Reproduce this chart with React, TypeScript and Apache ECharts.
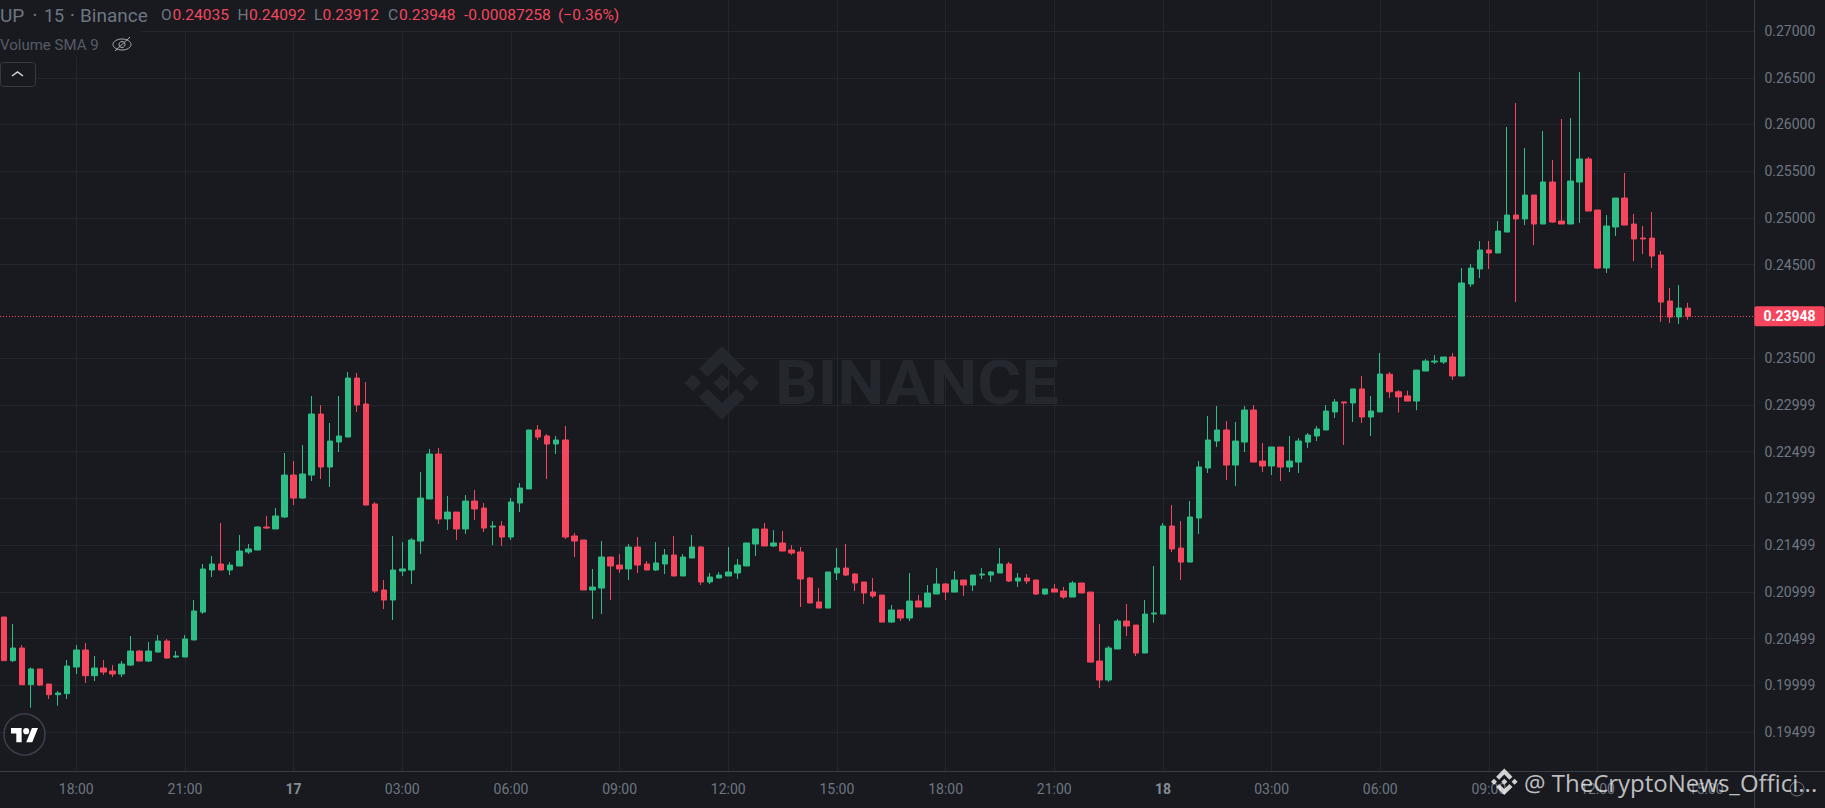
import React, { useEffect, useRef } from "react";
import * as echarts from "echarts";

// [open, close, low, high] per 15-minute candle
const candlesDay16 = [
  [0.2073,0.20263,0.20263,0.2073],[0.20263,0.20398,0.20248,0.20655],[0.20398,0.20006,0.20006,0.2043],[0.20006,0.20174,0.1976,0.20191],
  [0.20174,0.20002,0.19992,0.20174],[0.20013,0.19899,0.19853,0.20013],[0.19899,0.19917,0.19781,0.19938],[0.1991,0.20206,0.19853,0.2027],
  [0.20195,0.20377,0.2012,0.2043],[0.20377,0.20102,0.20024,0.20452],[0.20102,0.20184,0.20045,0.20313],[0.20184,0.20141,0.20109,0.2027],
  [0.20152,0.2012,0.20088,0.20216],[0.2012,0.20227,0.20088,0.20259],[0.20216,0.20366,0.20206,0.20527],[0.20366,0.20259,0.20259,0.20377],
  [0.20259,0.20366,0.20248,0.20462],[0.20355,0.20473,0.20355,0.20537],[0.20473,0.20291,0.20281,0.20495],[0.20302,0.20313,0.20291,0.20366],
  [0.20302,0.20495,0.20302,0.20537],[0.20484,0.20794,0.20484,0.20912],[0.20783,0.21244,0.20762,0.21297],[0.21233,0.21297,0.21158,0.21383],
  [0.21297,0.21233,0.21233,0.21736],[0.21233,0.21286,0.21179,0.21318],[0.21276,0.21436,0.21276,0.21607],[0.21425,0.21458,0.21404,0.21511],
  [0.21447,0.21693,0.21447,0.21704],[0.21693,0.21682,0.21672,0.21811],[0.21672,0.21811,0.21672,0.21896],[0.218,0.22249,0.21789,0.22485],
];
const candlesDay17 = [
  [0.22249,0.22003,0.21928,0.22399],[0.22003,0.2226,0.21993,0.2257],[0.22249,0.22902,0.22185,0.23095],[0.22902,0.22335,0.22207,0.22998],
  [0.22335,0.22613,0.22121,0.22806],[0.22603,0.22667,0.22496,0.23095],[0.22656,0.23287,0.22656,0.23352],[0.23287,0.22998,0.22924,0.23341],
  [0.23009,0.21928,0.21928,0.23245],[0.21939,0.21008,0.20987,0.2196],[0.21019,0.20912,0.20815,0.21126],[0.20912,0.21233,0.20698,0.21597],
  [0.21222,0.21244,0.21169,0.21532],[0.21233,0.21554,0.21083,0.21575],[0.21543,0.22003,0.21404,0.22281],[0.21993,0.22474,0.21993,0.22528],
  [0.22474,0.21779,0.21725,0.22538],[0.21779,0.21853,0.21661,0.22025],[0.21853,0.21672,0.21554,0.21853],[0.21672,0.21971,0.21618,0.22035],
  [0.21971,0.21886,0.21768,0.22089],[0.21896,0.21682,0.21639,0.2195],[0.21693,0.21704,0.215,0.21757],[0.21704,0.21586,0.2149,0.21757],
  [0.21586,0.21961,0.21554,0.22003],[0.2195,0.2211,0.21854,0.22164],[0.221,0.22731,0.221,0.22731],[0.22731,0.22656,0.22624,0.22784],
  [0.22667,0.22581,0.22207,0.22688],[0.22581,0.22624,0.22474,0.22667],[0.22624,0.21586,0.21565,0.22774],[0.21597,0.21543,0.21372,0.21629],
  [0.21554,0.21019,0.21019,0.21554],[0.21019,0.21051,0.20709,0.21244],[0.2104,0.21372,0.20762,0.21543],[0.21372,0.21276,0.20912,0.21372],
  [0.21286,0.21244,0.21201,0.21404],[0.21244,0.21479,0.21126,0.21511],[0.21479,0.21286,0.21201,0.21586],[0.21297,0.21233,0.21233,0.21329],
  [0.21233,0.21308,0.21222,0.21532],[0.21297,0.21393,0.2119,0.21458],[0.21393,0.21169,0.21169,0.21597],[0.21169,0.21372,0.21169,0.21404],
  [0.21361,0.21479,0.21361,0.21607],[0.21479,0.21105,0.21072,0.2149],[0.21105,0.21158,0.21083,0.21201],[0.21147,0.21179,0.21147,0.21212],
  [0.21169,0.21212,0.21169,0.21479],[0.21201,0.21286,0.21137,0.21351],[0.21276,0.21522,0.21276,0.21522],[0.21511,0.21672,0.21383,0.21672],
  [0.21672,0.2149,0.2149,0.21736],[0.2149,0.21522,0.21479,0.21661],[0.21522,0.21436,0.21436,0.2165],[0.21447,0.21415,0.21393,0.215],
  [0.21426,0.21137,0.20837,0.21479],[0.21147,0.2088,0.2088,0.21158],[0.20891,0.20826,0.20826,0.2104],[0.20826,0.21212,0.20826,0.21212],
  [0.21201,0.21254,0.21126,0.21468],[0.21254,0.21179,0.21169,0.21511],[0.2119,0.21094,0.21008,0.21201],[0.21105,0.20987,0.20869,0.21105],
  [0.20998,0.20955,0.20933,0.21147],[0.20965,0.20676,0.20676,0.20965],[0.20676,0.20805,0.20666,0.20858],[0.20805,0.20719,0.20687,0.20805],
  [0.20719,0.20901,0.20687,0.21201],[0.20901,0.20837,0.20837,0.20965],[0.20837,0.20987,0.20837,0.21072],[0.20976,0.21083,0.20976,0.21254],
  [0.21083,0.20997,0.20912,0.21094],[0.20997,0.21126,0.20997,0.21222],[0.21126,0.21072,0.20955,0.21126],[0.21072,0.21179,0.21008,0.21179],
  [0.21179,0.2119,0.21137,0.21254],[0.21179,0.21212,0.21105,0.21222],[0.21201,0.21297,0.21201,0.21468],[0.21297,0.21115,0.21105,0.21319],
  [0.21115,0.21147,0.21051,0.21201],[0.21147,0.21115,0.21083,0.2119],[0.21126,0.20976,0.20965,0.21126],[0.20976,0.2103,0.20965,0.2103],
  [0.2103,0.20997,0.20997,0.21083],[0.21008,0.20944,0.20923,0.21051],[0.20944,0.21094,0.20944,0.21115],[0.21094,0.20987,0.20987,0.21094],
  [0.20997,0.20248,0.20248,0.20997],[0.20259,0.20056,0.1997,0.20655],[0.20056,0.20398,0.20034,0.2042],[0.20388,0.20687,0.20388,0.20709],
  [0.20687,0.20634,0.20527,0.20869],[0.20644,0.20345,0.20313,0.20644],[0.20345,0.20762,0.20345,0.20912],[0.20762,0.20773,0.20669,0.21276],
];
const candlesDay18 = [
  [0.20762,0.21704,0.20762,0.21736],[0.21704,0.21458,0.21425,0.21928],[0.21468,0.21318,0.21126,0.21757],[0.21318,0.218,0.21318,0.21971],
  [0.21789,0.22335,0.21618,0.22399],[0.22324,0.22624,0.22271,0.22881],[0.22613,0.22731,0.22549,0.22988],[0.22731,0.22356,0.22196,0.22827],
  [0.22356,0.22613,0.22132,0.22817],[0.22602,0.22945,0.22495,0.22988],[0.22945,0.22388,0.22388,0.22998],[0.22399,0.22346,0.22281,0.22592],
  [0.22346,0.22549,0.22249,0.22549],[0.22549,0.22335,0.22185,0.22549],[0.22335,0.22399,0.22281,0.22667],[0.22388,0.22613,0.22271,0.22645],
  [0.22602,0.22677,0.22538,0.22699],[0.22667,0.22742,0.22613,0.22774],[0.22731,0.22934,0.22731,0.22998],[0.22924,0.23031,0.22859,0.23063],
  [0.23031,0.2302,0.2257,0.23031],[0.2302,0.2317,0.22817,0.2317],[0.2317,0.2287,0.22806,0.23309],[0.2287,0.22934,0.22667,0.23095],
  [0.22924,0.2333,0.22924,0.23555],[0.23328,0.2314,0.23074,0.23352],[0.2314,0.23085,0.22919,0.23157],[0.23096,0.23041,0.23041,0.23152],
  [0.23041,0.23372,0.22942,0.23372],[0.23362,0.23469,0.23362,0.2349],[0.23458,0.23469,0.23437,0.23533],[0.23458,0.23512,0.23437,0.23512],
  [0.23512,0.23309,0.23266,0.23555],[0.23309,0.24304,0.23309,0.24464],[0.24293,0.24464,0.24261,0.24507],[0.24454,0.24657,0.24357,0.24753],
  [0.24657,0.24625,0.24454,0.24753],[0.24625,0.2486,0.24625,0.24967],[0.24849,0.25031,0.24849,0.25973],[0.25031,0.24989,0.241,0.2623],
  [0.24989,0.25245,0.24924,0.25748],[0.25245,0.24935,0.2471,0.25245],[0.24935,0.25385,0.24935,0.2593],[0.25384,0.24956,0.24946,0.2562],
  [0.24967,0.24935,0.24935,0.26059],[0.24935,0.25395,0.24935,0.26069],[0.25384,0.25631,0.24946,0.26562],[0.25631,0.25074,0.25074,0.25652],
  [0.25085,0.24464,0.24454,0.25085],[0.24464,0.24914,0.24411,0.25031],[0.24903,0.25213,0.24807,0.25213],[0.25213,0.24924,0.24924,0.25481],
  [0.24935,0.24775,0.24539,0.25042],[0.24785,0.24775,0.24614,0.24914],[0.24785,0.24593,0.24464,0.25063],[0.24603,0.241,0.23886,0.24646],
  [0.24111,0.2394,0.23876,0.2425],[0.2394,0.24036,0.23865,0.24282],[0.24035,0.23948,0.23912,0.24092],
];

const priceTicks = [0.27,0.265,0.26,0.255,0.25,0.245,0.235,0.22999,0.22499,0.21999,0.21499,0.20999,0.20499,0.19999,0.19499];
const timeTickIndex = [8,20,32,44,56,68,80,92,104,116,128,140,152,164,176,188];
const timeTickLabels = ["18:00","21:00","17","03:00","06:00","09:00","12:00","15:00","18:00","21:00","18","03:00","06:00","09:00","12:00","15:00"];
const lastPrice = 0.23948;
const ohlcLegend = ["0.24035","0.24092","0.23912","0.23948"];

const BG = "#181A20";
const UP = "#2EBD85";
const DOWN = "#F6465D";
const GRID = "#23262D";
const AXIS = "#3A3E46";
const MUTED = "#6E7681";
const FONT = "Roboto, sans-serif";

const BINANCE_D = "M38.73 53.2l24.59-24.58 24.6 24.6 14.3-14.31L63.32 0 24.43 38.9 38.73 53.2zM0 63.31l14.3-14.31 14.31 14.31-14.31 14.3L0 63.31zM38.73 73.41l24.59 24.59 24.6-24.6 14.31 14.29L63.32 126.61 24.43 87.7l-.02-.02 14.32-14.27zM98 63.31l14.3-14.3 14.31 14.3-14.31 14.3L98 63.31zM77.83 63.3h.01L63.32 48.78 52.59 59.51l-1.24 1.23-2.54 2.54-.02.02.02.03 14.51 14.5 14.52-14.52.01-.01h-.02z";
const TV_D = "M14 22H7V11H0V4h14v18zM28 22h-8l7.5-18h8L28 22zM20 4a4 4 0 1 0 0 8 4 4 0 1 0 0-8z";
echarts.graphic.registerShape("binanceLogo", echarts.graphic.extendPath(BINANCE_D, {}));
echarts.graphic.registerShape("tvLogo", echarts.graphic.extendPath(TV_D, {}));

const label = (text: string, x: number, y: number, fill: string, size = 15.5, extra: any = {}) => ({
  type: "text", x, y, z: 20, silent: true,
  style: { text, fill, font: `${extra.weight || 400} ${size}px ${extra.family || FONT}`, verticalAlign: "middle", align: extra.align || "left", opacity: extra.opacity ?? 1 },
  ...(extra.scaleX ? { scaleX: extra.scaleX } : {}),
});

export default function App() {
  const ref = useRef<HTMLDivElement>(null);
  useEffect(() => {
    const chart = echarts.init(ref.current!, null, { renderer: "svg" });
    const candles = [...candlesDay16, ...candlesDay17, ...candlesDay18];
    chart.setOption({
      animation: false,
      backgroundColor: BG,
      grid: { left: 0, top: 0, width: 1754.4, height: 771.6 },
      xAxis: {
        type: "value", min: -0.426, max: 193.32, scale: true,
        axisLine: { show: true, onZero: false, lineStyle: { color: AXIS } },
        axisTick: { show: false, customValues: timeTickIndex },
        splitLine: { show: true, lineStyle: { color: GRID, width: 1 } },
        axisLabel: {
          customValues: timeTickIndex, color: MUTED, fontFamily: FONT, fontSize: 14, margin: 10,
          formatter: (v: number) => {
            const t = timeTickLabels[timeTickIndex.indexOf(Math.round(v))] ?? "";
            return t.length === 2 ? `{d|${t}}` : t;
          },
          rich: { d: { color: "#858C97", fontFamily: FONT, fontSize: 14, fontWeight: 700 } },
        },
      },
      yAxis: {
        type: "value", position: "right", min: 0.19076, max: 0.27332, scale: true,
        axisLine: { show: true, onZero: false, lineStyle: { color: AXIS } },
        axisTick: { show: false, customValues: priceTicks },
        splitLine: { show: true, lineStyle: { color: GRID, width: 1 } },
        axisLabel: {
          customValues: priceTicks, color: MUTED, fontFamily: FONT, fontSize: 14, margin: 10,
          formatter: (v: number) => v.toFixed(5),
        },
      },
      series: [{
        type: "candlestick",
        barWidth: 6,
        z: 5,
        data: candles.map((c, i) => [i, ...c]),
        itemStyle: { color: UP, color0: DOWN, borderColor: UP, borderColor0: DOWN, borderColorDoji: UP, borderWidth: 1 },
        markLine: {
          silent: true, symbol: "none", animation: false, precision: 5,
          lineStyle: { color: DOWN, type: [1, 2], width: 1 },
          data: [{ yAxis: lastPrice }],
          label: {
            position: "end", distance: 0, formatter: lastPrice.toFixed(5),
            color: "#FFFFFF", backgroundColor: DOWN, fontFamily: FONT, fontSize: 14, fontWeight: 700,
            padding: [3, 9, 3, 9], borderRadius: 2,
          },
        },
      }],
      graphic: [
        { type: "rect", z: 1, silent: true, shape: { x: 0, y: 0, width: 622, height: 30 }, style: { fill: BG } },
        { type: "rect", z: 1, silent: true, shape: { x: 0, y: 31, width: 140, height: 26 }, style: { fill: BG } },
        // BINANCE watermark
        { type: "binanceLogo", z: 1, silent: true, x: 684.5, y: 346, scaleX: 0.592, scaleY: 0.582, style: { fill: "#25272E" } },
        label("BINANCE", 775, 382.5, "#25272E", 62, { weight: 700, scaleX: 1.08 }),
        // axis line extensions
        { type: "line", z: 3, silent: true, shape: { x1: 1754.5, y1: 771.6, x2: 1754.5, y2: 808 }, style: { stroke: AXIS, lineWidth: 1 } },
        { type: "line", z: 3, silent: true, shape: { x1: 1754.4, y1: 771.5, x2: 1825, y2: 771.5 }, style: { stroke: AXIS, lineWidth: 1 } },
        // legend
        label("UP", 0, 15.5, MUTED, 19),
        label("•", 33, 15, MUTED, 11),
        label("15", 44, 15.5, MUTED, 18),
        label("•", 70.5, 15, MUTED, 11),
        label("Binance", 80, 15.5, MUTED, 19),
        label("O", 161, 15, MUTED), label(ohlcLegend[0], 172.5, 15, DOWN),
        label("H", 237.5, 15, MUTED), label(ohlcLegend[1], 249, 15, DOWN),
        label("L", 314, 15, MUTED), label(ohlcLegend[2], 322.5, 15, DOWN),
        label("C", 388, 15, MUTED), label(ohlcLegend[3], 399, 15, DOWN),
        label("-0.00087258", 464, 15, DOWN), label("(−0.36%)", 558, 15, DOWN),
        label("Volume SMA 9", 0, 45, "#565C66", 15),
        // hidden-eye icon
        { type: "ellipse", z: 20, silent: true, shape: { cx: 122, cy: 44.5, rx: 9, ry: 5.5 }, style: { fill: "none", stroke: "#A9ADB5", lineWidth: 1 } },
        { type: "circle", z: 20, silent: true, shape: { cx: 122, cy: 44.5, r: 3 }, style: { fill: "none", stroke: "#A9ADB5", lineWidth: 1 } },
        { type: "line", z: 20, silent: true, shape: { x1: 115, y1: 51, x2: 130, y2: 37 }, style: { stroke: "#A9ADB5", lineWidth: 1 } },
        // collapse button
        { type: "rect", z: 20, silent: true, shape: { x: 0.5, y: 62.5, width: 35, height: 24, r: 3 }, style: { fill: BG, stroke: "#363A43", lineWidth: 1 } },
        { type: "polyline", z: 20, silent: true, shape: { points: [[12, 76], [17.5, 72], [23, 76]] }, style: { fill: "none", stroke: "#D5D7DB", lineWidth: 1.5 } },
        // TradingView badge
        { type: "circle", z: 20, silent: true, shape: { cx: 24.5, cy: 734.5, r: 20.5 }, style: { fill: BG, stroke: "#3A3F4B", lineWidth: 1.5 } },
        { type: "tvLogo", z: 20, silent: true, x: 11, y: 725, scaleX: 0.76, scaleY: 0.78, style: { fill: "#FFFFFF" } },
        // corner controls and reposter mark
        { type: "circle", z: 20, silent: true, shape: { cx: 1797, cy: 789, r: 7 }, style: { fill: "none", stroke: "#6E7681", lineWidth: 1 } },
        { type: "binanceLogo", z: 30, silent: true, x: 1491, y: 768.5, scaleX: 0.21, scaleY: 0.21, style: { fill: "#FFFFFF", opacity: 0.8 } },
        label("@ TheCryptoNews_Offici...", 1524, 782, "#FFFFFF", 24, { family: "'Open Sans', sans-serif", opacity: 0.72 }),
      ],
    });
    return () => chart.dispose();
  }, []);
  return <div ref={ref} style={{ position: "fixed", left: 0, top: 0, width: 1825, height: 808 }} />;
}
